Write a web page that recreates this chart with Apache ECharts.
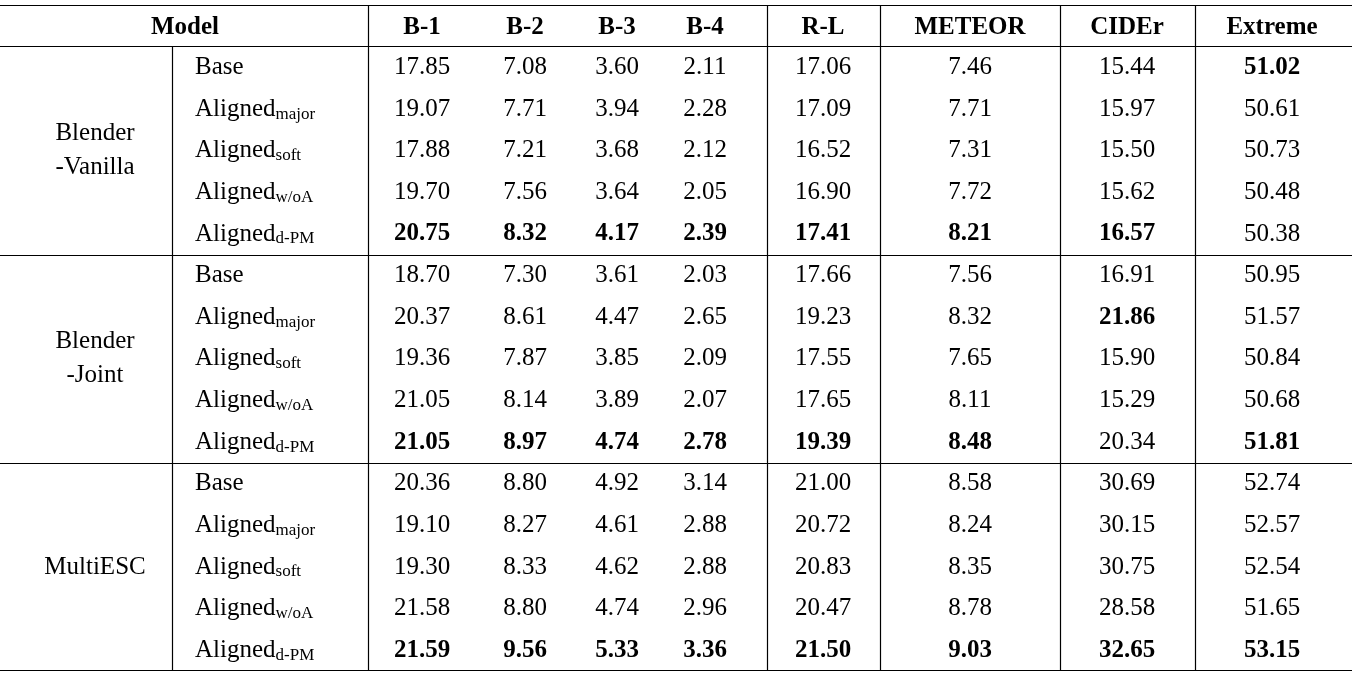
<!DOCTYPE html><html><head><meta charset="utf-8">
<script src="https://cdn.jsdelivr.net/npm/echarts@6/dist/echarts.min.js"></script>
<style>html,body{margin:0;background:#fff}#c{width:1356px;height:676px}</style></head><body><div id="c"></div>
<script>
const headers=['B-1','B-2','B-3','B-4','R-L','METEOR','CIDEr','Extreme'];
const groups=['Blender\n-Vanilla','Blender\n-Joint','MultiESC'];
const variants=[['Base',''],['Aligned','major'],['Aligned','soft'],['Aligned','w/oA'],['Aligned','d-PM']];
const values=[
[17.85,7.08,3.60,2.11,17.06,7.46,15.44,51.02],
[19.07,7.71,3.94,2.28,17.09,7.71,15.97,50.61],
[17.88,7.21,3.68,2.12,16.52,7.31,15.50,50.73],
[19.70,7.56,3.64,2.05,16.90,7.72,15.62,50.48],
[20.75,8.32,4.17,2.39,17.41,8.21,16.57,50.38],
[18.70,7.30,3.61,2.03,17.66,7.56,16.91,50.95],
[20.37,8.61,4.47,2.65,19.23,8.32,21.86,51.57],
[19.36,7.87,3.85,2.09,17.55,7.65,15.90,50.84],
[21.05,8.14,3.89,2.07,17.65,8.11,15.29,50.68],
[21.05,8.97,4.74,2.78,19.39,8.48,20.34,51.81],
[20.36,8.80,4.92,3.14,21.00,8.58,30.69,52.74],
[19.10,8.27,4.61,2.88,20.72,8.24,30.15,52.57],
[19.30,8.33,4.62,2.88,20.83,8.35,30.75,52.54],
[21.58,8.80,4.74,2.96,20.47,8.78,28.58,51.65],
[21.59,9.56,5.33,3.36,21.50,9.03,32.65,53.15]];
const bold=[
[0,0,0,0,0,0,0,1],[0,0,0,0,0,0,0,0],[0,0,0,0,0,0,0,0],[0,0,0,0,0,0,0,0],[1,1,1,1,1,1,1,0],
[0,0,0,0,0,0,0,0],[0,0,0,0,0,0,1,0],[0,0,0,0,0,0,0,0],[0,0,0,0,0,0,0,0],[1,1,1,1,1,1,0,1],
[0,0,0,0,0,0,0,0],[0,0,0,0,0,0,0,0],[0,0,0,0,0,0,0,0],[0,0,0,0,0,0,0,0],[1,1,1,1,1,1,1,1]];
// layout
const colX=[422,525,617,705,823,970,1127,1272];
const groupX=95, varX=195;
const F='Liberation Serif', FS=25;
const textData=[];
headers.forEach((h,j)=>textData.push({value:[colX[j],-0.95],label:{formatter:h,fontWeight:'bold'}}));
textData.push({value:[185,-0.95],label:{formatter:'Model',fontWeight:'bold'}});
groups.forEach((g,k)=>textData.push({value:[groupX,k*5+2],label:{formatter:g,lineHeight:34}}));
values.forEach((row,i)=>{
  const v=variants[i%5];
  textData.push({value:[varX,i],label:{align:'left',formatter:v[1]?'{a|'+v[0]+'}{s|'+v[1]+'}':'{a|'+v[0]+'}'}});
  row.forEach((x,j)=>textData.push({value:[colX[j],i],label:{formatter:x.toFixed(2),fontWeight:bold[i][j]?'bold':'normal'}}));
});
const W=1352;
const lineData=[
[[0,-1.5],[W,-1.5],2],[[0,-0.5],[W,-0.5],1.2],[[0,4.5],[W,4.5],1.2],[[0,9.5],[W,9.5],1.2],[[0,14.5],[W,14.5],2],
[[368,-1.5],[368,14.5],1.2],[[767,-1.5],[767,14.5],1.2],[[880,-1.5],[880,14.5],1.2],[[1060,-1.5],[1060,14.5],1.2],[[1195,-1.5],[1195,14.5],1.2],
[[172,-0.5],[172,14.5],1.2]];
const chart=echarts.init(document.getElementById('c'));
chart.setOption({
  animation:false,
  grid:{left:0,right:0,top:5,bottom:5},
  xAxis:{type:'value',min:0,max:1356,show:false},
  yAxis:{type:'value',min:-1.5,max:14.5,inverse:true,show:false},
  series:[
    {type:'lines',coordinateSystem:'cartesian2d',silent:true,
     data:lineData.map(l=>({coords:[l[0],l[1]],lineStyle:{width:l[2]}})),
     lineStyle:{color:'#000',opacity:1}},
    {type:'scatter',symbolSize:0,silent:true,data:textData,itemStyle:{opacity:1},
     label:{show:true,position:'inside',color:'#000',opacity:1,fontFamily:F,fontSize:FS,
       rich:{a:{fontFamily:F,fontSize:FS,color:'#000'},s:{fontFamily:F,fontSize:17,color:'#000',padding:[10,0,0,0]}}}}
  ]
});
</script></body></html>
